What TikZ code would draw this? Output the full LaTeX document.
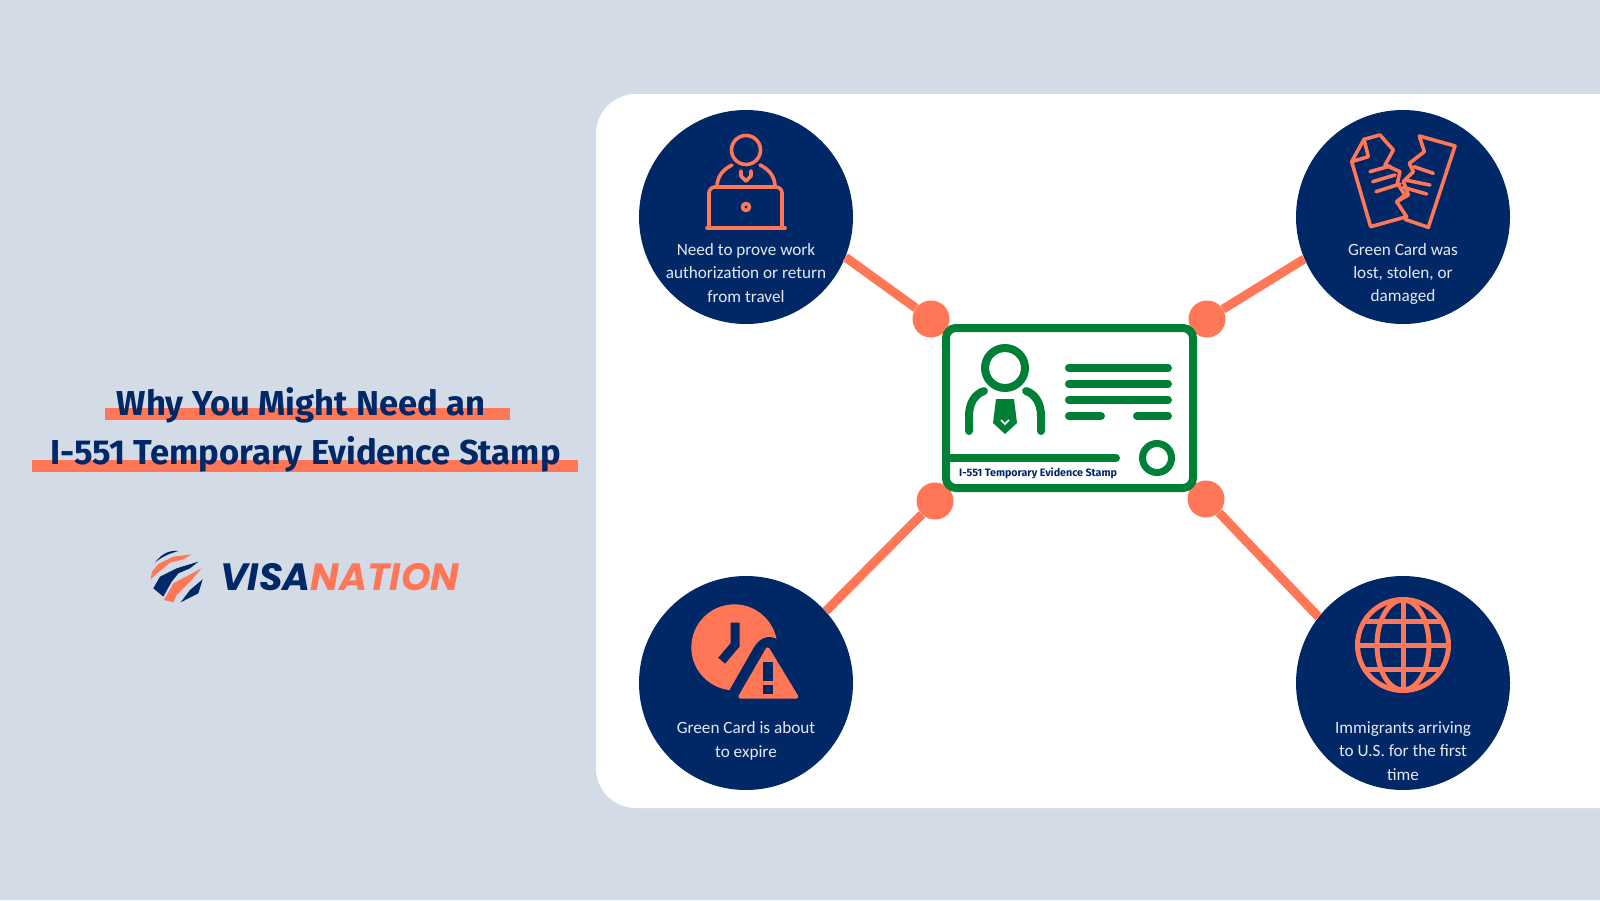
\documentclass[tikz,border=0pt]{standalone}
\usepackage{fontspec}
\setmainfont{Carlito}
\newfontfamily\titlefont{Fira Sans}
\newfontfamily\logofont{Poppins}
\usetikzlibrary{shapes.geometric, arrows}
\definecolor{pagebg}{HTML}{D3DCE6}
\definecolor{navy}{HTML}{002766}
\definecolor{coral}{HTML}{FF7757}
\definecolor{cardgreen}{HTML}{008037}
\definecolor{captiongray}{HTML}{E4E9EF}
\tikzset{
	bubble/.style={circle, fill=navy, minimum size=214pt, inner sep=0pt},
	joint/.style={circle, fill=coral, minimum size=37pt, inner sep=0pt},
	link/.style={draw=coral, line width=9pt},
	caption/.style={text=captiongray, align=center, font=\fontsize{17.2}{23.4}\selectfont},
	headline/.style={text=navy, font=\titlefont\bfseries\fontsize{34.6}{34.6}\selectfont, anchor=base},
	icon/.style={draw=coral, line width=3.6pt, line join=round, line cap=round},
	cardline/.style={draw=cardgreen, line width=8pt, line cap=round}
}
\begin{document}
\begin{tikzpicture}[x=1pt, y=-1pt]
	\useasboundingbox (0,0) rectangle (1600,900);
	\fill[pagebg] (0,0) rectangle (1600,900);
	\fill[white, rounded corners=40pt] (596,94) -- (1700,94) -- (1700,808) -- (596,808) -- cycle;

	% title on the left
	\fill[coral] (105,408) rectangle (510,420);
	\fill[coral] (32,460) rectangle (578,472);
	\node[headline] (line1) at (301,415) {Why You Might Need an};
	\node[headline] (line2) at (305.5,464) {I-551 Temporary Evidence Stamp};

	% logo
	\begin{scope}[shift={(140,540)}, x=0.3333pt, y=-0.3333pt]
		\fill[navy] (45,68) .. controls (65,40) and (90,30) .. (115,33) .. controls (90,40) and (65,50) .. cycle;
		\fill[coral] (32,118) -- (36,95) -- (55,72) -- (100,50) -- (155,43) -- (130,58) -- (90,68) -- (70,85) -- (45,105) -- cycle;
		\fill[navy] (40,145) -- (60,110) -- (110,85) -- (175,65) -- (150,85) -- (115,100) -- (95,125) -- (70,170) -- cycle;
		\fill[coral] (72,180) -- (100,130) -- (185,85) -- (150,125) -- (110,165) -- (100,187) -- cycle;
		\fill[navy] (122,187) -- (150,150) -- (188,118) -- (175,160) -- cycle;
	\end{scope}
	\node[anchor=base west, inner sep=0pt, font=\logofont\bfseries\itshape\fontsize{38}{38}\selectfont] (logo) at (220,590) {\textcolor{navy}{VISA}\textcolor{coral}{NATION}};

	% circles
	\node[bubble] (work) at (746,217) {};
	\node[bubble] (lost) at (1403,217) {};
	\node[bubble] (expire) at (746,683) {};
	\node[bubble] (arrive) at (1403,683) {};
	\node[joint] (jwork) at (931,319) {};
	\node[joint] (jlost) at (1207,319) {};
	\node[joint] (jexpire) at (935,501) {};
	\node[joint] (jarrive) at (1206,499) {};
	\draw[link] (work.-22) -- (jwork);
	\draw[link] (lost.203) -- (jlost);
	\draw[link] (expire.42) -- (jexpire);
	\draw[link] (arrive.142) -- (jarrive);

	\node[caption] (twork) at (746,273) {Need to prove work\\authorization or return\\from travel};
	\node[caption] (tlost) at (1403,274) {Green Card was\\lost, stolen, or\\damaged};
	\node[caption] (texpire) at (746,741) {Green Card is about\\to expire};
	\node[caption] (tarrive) at (1403,751) {Immigrants arriving\\to U.S. for the first\\time};

	% laptop icon
	\draw[icon] (746,150) circle [radius=14.5];
	\draw[icon] (717,185) .. controls (718,175) and (724,169) .. (732,165);
	\draw[icon] (775,185) .. controls (774,175) and (768,169) .. (760,165);
	\draw[icon] (741,171) -- (741,176) -- (746,181) -- (751,176) -- (751,171);
	\draw[icon, rounded corners=6pt] (709,228) -- (709,187) -- (782,187) -- (782,228);
	\draw[icon] (707,228) -- (785,228);
	\draw[icon] (746,207) circle [radius=3.5];

	% torn card icon
	\begin{scope}[shift={(1290,100)}, x=0.3333pt, y=-0.3333pt]
		\draw[icon] (185,185) -- (222,118) -- (270,105) -- (310,150) -- (285,195) -- (330,215) -- (322,250) -- (345,285) -- (320,305) -- (350,350) -- (242,380) -- cycle;
		\draw[icon] (222,118) -- (235,170) -- (185,185);
		\draw[icon] (388,108) -- (495,138) -- (415,382) -- (345,358);
		\draw[icon] (388,108) -- (403,155) -- (358,190) -- (370,215) -- (340,245) -- (350,270) -- (355,285) -- (320,305);
		\draw[icon] (372,200) -- (430,220);
		\draw[icon] (345,240) -- (420,255);
		\draw[icon] (340,262) -- (410,282);
		\draw[icon] (240,215) -- (300,198);
		\draw[icon] (248,245) -- (315,225);
		\draw[icon] (258,275) -- (330,252);
	\end{scope}

	% clock and warning icon
	\begin{scope}[shift={(640,570)}, x=0.3333pt, y=-0.3333pt]
		\fill[coral] (283,232) circle [radius=43pt];
		\fill[navy] (270,358) -- (342,232) .. controls (358,205) and (385,192) .. (412,208) -- (450,300) -- (300,420) -- cycle;
		\draw[navy, line width=9pt] (285,158) -- (285,225) -- (245,272);
		\fill[coral, draw=coral, line width=4pt, line join=round] (383,238) -- (469,380) -- (301,380) -- cycle;
		\fill[navy] (370,275) rectangle (400,332);
		\fill[navy] (370,345) rectangle (400,373);
	\end{scope}

	% globe icon
	\draw[coral, line width=5pt] (1403,645) circle [radius=45.5];
	\draw[coral, line width=5pt] (1403,645) ellipse [x radius=26, y radius=45];
	\draw[coral, line width=5pt] (1403,600) -- (1403,690);
	\draw[coral, line width=5pt] (1358,645) -- (1448,645);
	\draw[coral, line width=5pt] (1365,621) -- (1441,621);
	\draw[coral, line width=5pt] (1365,669) -- (1441,669);

	% card in the middle
	\draw[draw=cardgreen, line width=8pt, rounded corners=10pt] (946,328) rectangle (1193,488);
	\draw[cardgreen, line width=8pt] (1005,368) circle [radius=20];
	\draw[cardline] (969,431) -- (969,416) .. controls (969,403) and (975,394) .. (984,391);
	\draw[cardline] (1041,431) -- (1041,416) .. controls (1041,403) and (1035,394) .. (1026,391);
	\fill[cardgreen] (996,399) -- (1014,399) -- (1017,423) -- (1005,434) -- (993,423) -- cycle;
	\draw[white, line width=1.5pt] (1001,420) -- (1005,424) -- (1009,420);
	\draw[cardline] (1069,368) -- (1168,368);
	\draw[cardline] (1069,384) -- (1168,384);
	\draw[cardline] (1069,400) -- (1168,400);
	\draw[cardline] (1069,416) -- (1101,416);
	\draw[cardline] (1137,416) -- (1168,416);
	\draw[cardline] (948,458) -- (1116,458);
	\draw[cardgreen, line width=7pt] (1157,458) circle [radius=14.5];
	\node[anchor=west, inner sep=0pt, text=navy, font=\titlefont\bfseries\fontsize{10.7}{12}\selectfont] (cardtext) at (959,473) {I-551 Temporary Evidence Stamp};
\end{tikzpicture}
\end{document}
